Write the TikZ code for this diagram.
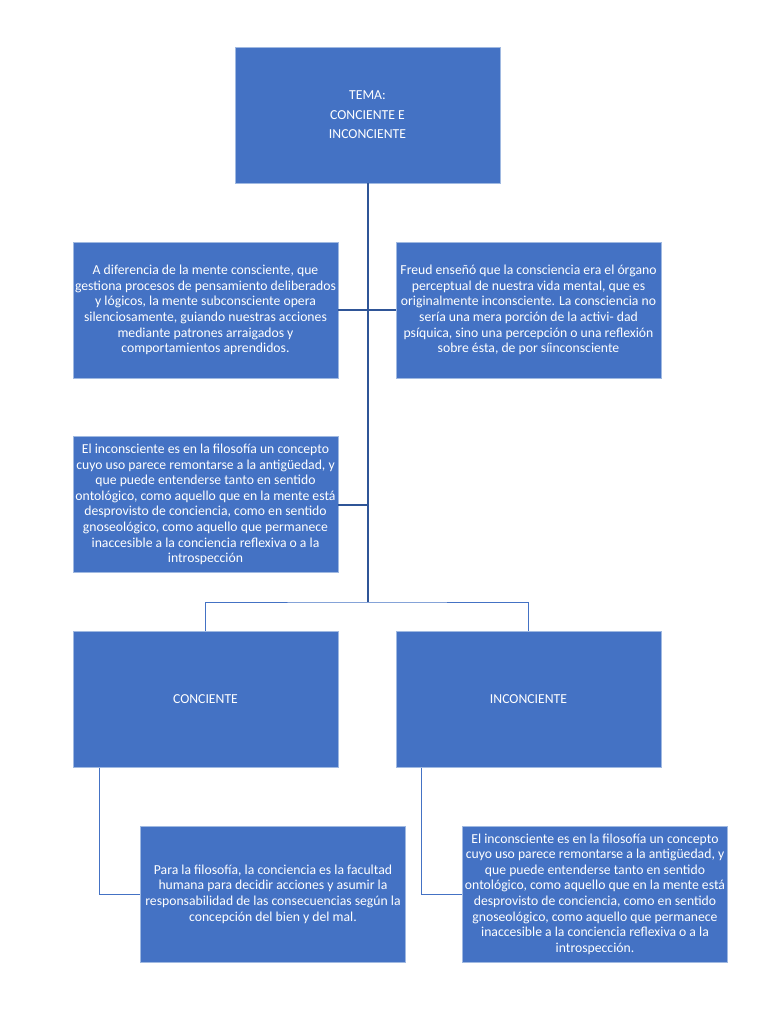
\documentclass[tikz,border=0pt]{standalone}
\usepackage{fontspec}
\setmainfont{Carlito}
\definecolor{box_c}{RGB}{68,114,196}
\definecolor{edge_c}{RGB}{160,185,225}
\definecolor{trunk_c}{RGB}{47,85,151}
\usepackage{tikz}
\usetikzlibrary{positioning,calc}

\begin{document}
\begin{tikzpicture}[
			x=1pt, y=-1pt,
			box/.style = {rectangle, fill=box_c, draw=edge_c, line width=0.6pt,
				minimum width=265pt, minimum height=136pt, inner sep=0pt,
				text=white, align=center, font=\fontsize{13.7}{15.6}\selectfont},
			trunk/.style = {draw=trunk_c, line width=2pt},
			branch/.style = {draw=box_c, line width=1pt},
			]
			\useasboundingbox (0,0) rectangle (768,1024);
			\fill[white] (0,0) rectangle (768,1024);
			% boxes
			\node[box] (tema) at (367.5,115) {TEMA:\\[4pt]CONCIENTE E\\[4pt]INCONCIENTE};
			\node[box] (dif) at (205.5,310) {A diferencia de la mente consciente, que\\gestiona procesos de pensamiento deliberados\\y lógicos, la mente subconsciente opera\\silenciosamente, guiando nuestras acciones\\mediante patrones arraigados y\\comportamientos aprendidos.};
			\node[box] (freud) at (528.5,310) {Freud enseñó que la consciencia era el órgano\\perceptual de nuestra vida mental, que es\\originalmente inconsciente. La consciencia no\\sería una mera porción de la activi- dad\\psíquica, sino una percepción o una reflexión\\sobre ésta, de por síinconsciente};
			\node[box] (filo) at (205.5,504.5) {El inconsciente es en la filosofía un concepto\\cuyo uso parece remontarse a la antigüedad, y\\que puede entenderse tanto en sentido\\ontológico, como aquello que en la mente está\\desprovisto de conciencia, como en sentido\\gnoseológico, como aquello que permanece\\inaccesible a la conciencia reflexiva o a la\\introspección};
			\node[box] (con) at (205.5,699.5) {CONCIENTE};
			\node[box] (incon) at (528.5,699.5) {INCONCIENTE};
			\node[box] (para) at (273,894) {Para la filosofía, la conciencia es la facultad\\humana para decidir acciones y asumir la\\responsabilidad de las consecuencias según la\\concepción del bien y del mal.};
			\node[box] (incon2) at (595,894) {El inconsciente es en la filosofía un concepto\\cuyo uso parece remontarse a la antigüedad, y\\que puede entenderse tanto en sentido\\ontológico, como aquello que en la mente está\\desprovisto de conciencia, como en sentido\\gnoseológico, como aquello que permanece\\inaccesible a la conciencia reflexiva o a la\\introspección.};
			\coordinate (split) at (367.5,602);
			% edges
			\draw[trunk] (dif.east) -- (freud.west);
			\draw[trunk] (filo.east) -- (filo.east -| tema.south);
			\draw[trunk] (tema.south) -- (split);
			\draw[branch] (con.north) |- (split) -| (incon.north);
			\draw[branch] ([xshift=27pt]con.south west) |- (para.west);
			\draw[branch] ([xshift=26pt]incon.south west) |- (incon2.west);
		\end{tikzpicture}
\end{document}
